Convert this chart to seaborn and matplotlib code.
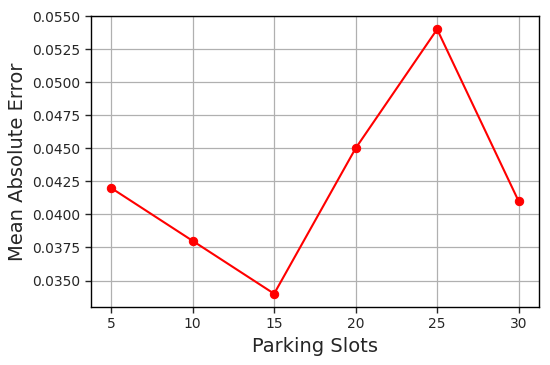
import pandas as pd
import seaborn as sns
import matplotlib
matplotlib.use('Agg')
import matplotlib.pyplot as plt

# --- data ---
parking_slots = [5, 10, 15, 20, 25, 30]
mae = [0.0420, 0.0380, 0.0340, 0.0450, 0.0540, 0.0410]
x_ticks = [5, 10, 15, 20, 25, 30]

df = pd.DataFrame({'Parking Slots': parking_slots, 'Mean Absolute Error': mae})

sns.set_style('whitegrid', {
    'axes.edgecolor': 'black',
    'grid.color': '#b0b0b0',
    'xtick.bottom': True,
    'ytick.left': True,
})
plt.rcParams['font.family'] = ['DejaVu Sans']

fig = plt.figure(figsize=(5.5, 3.65), dpi=100)
ax = fig.add_axes([0.165, 0.159, 0.815, 0.797])

sns.lineplot(data=df, x='Parking Slots', y='Mean Absolute Error', ax=ax,
             color='red', marker='o', markersize=6, markeredgecolor='red',
             linewidth=1.5)

ax.set_xticks(x_ticks)
ax.yaxis.set_major_formatter(matplotlib.ticker.FormatStrFormatter('%.4f'))
ax.set_xlabel('Parking Slots', fontsize=14)
ax.set_ylabel('Mean Absolute Error', fontsize=14)
ax.tick_params(labelsize=10, colors='#262626', length=4, width=1)
for s in ax.spines.values():
    s.set_linewidth(1)
ax.grid(True, linewidth=0.9)

fig.savefig('out.png', dpi=100)
